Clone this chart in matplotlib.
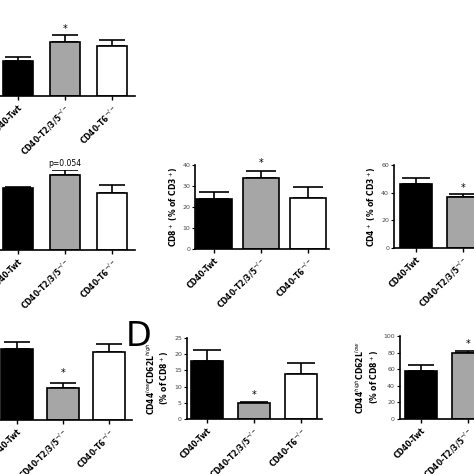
import matplotlib
matplotlib.use("Agg")
import matplotlib.pyplot as plt

groups = ["CD40-Twt", "CD40-T2/3/5$^{-/-}$", "CD40-T6$^{-/-}$"]
colors = ["black", "#a6a6a6", "white"]

# each panel: means, errors, stars
top_left_vals = [44, 67.5, 62.5]
top_left_err = [5, 8.5, 7.5]
mid_left_vals = [77.5, 94, 71]
mid_left_err = [1, 6, 10]
cd8_vals = [24, 34, 24.5]
cd8_err = [3.3, 3, 5]
cd4_vals = [46, 37, 0]
cd4_err = [4.6, 2, 0]
bot_left_vals = [71, 32, 68]
bot_left_err = [7, 5, 8]
naive_vals = [18, 4.8, 14]
naive_err = [3.3, 0.5, 3.2]
eff_vals = [58, 80, 0]
eff_err = [7, 1.5, 0]

W = H = 474
fig = plt.figure(figsize=(4.74, 4.74), dpi=100)


def panel(c0, sp, bottom, ppu, xlim, ylim, vals, errs, width=0.7, ticks=None,
          ylabel=None, n=3, note=None, show_left=True):
    left = c0 + xlim[0] * sp
    wpx = (xlim[1] - xlim[0]) * sp
    hpx = (ylim[1] - ylim[0]) * ppu
    ax = fig.add_axes([left / W, (H - bottom) / H, wpx / W, hpx / H])
    x = list(range(n))
    ax.bar(x, vals[:n], width=width, color=colors[:n], edgecolor="black", linewidth=1.2, zorder=2)
    for i in range(n):
        ax.errorbar(i, vals[i], yerr=[[0], [errs[i]]], color="black", capsize=width * sp * 0.3,
                    lw=1.2, capthick=1.2, zorder=1)
    if note is not None:
        ax.text(1, note[0], note[1], ha="center", va="bottom", fontsize=5.5 if note[1] != "*" else 7)
    ax.set_xlim(*xlim)
    ax.set_ylim(*ylim)
    ax.set_xticks(x)
    ax.set_xticklabels(groups[:n], rotation=45, ha="right", rotation_mode="anchor",
                       fontsize=5.5, fontweight="bold")
    ax.tick_params(axis="x", length=3, width=1, pad=2)
    ax.spines["top"].set_visible(False)
    ax.spines["right"].set_visible(False)
    ax.spines["left"].set_linewidth(1.2)
    ax.spines["bottom"].set_linewidth(1.2)
    if ticks is not None:
        ax.set_yticks(ticks)
        ax.tick_params(axis="y", labelsize=4.5, colors="black", labelcolor="#444444",
                       length=2.5, pad=1)
    else:
        ax.set_yticks([])
    if not show_left:
        ax.spines["left"].set_visible(False)
    if ylabel:
        ax.set_ylabel(ylabel, fontsize=5.5, fontweight="bold", labelpad=2)
    return ax


panel(18, 47, 96, 0.8, (-0.8, 2.5), (0, 100), top_left_vals, top_left_err,
      width=0.65, note=(78, "*"), show_left=False)
panel(18, 47, 250, 0.8, (-0.8, 2.5), (0, 100), mid_left_vals, mid_left_err,
      width=0.65, note=(102, "p=0.054"), show_left=False)
panel(214, 47, 249, 2.1, (-0.4, 2.45), (0, 40), cd8_vals, cd8_err, width=0.78,
      ticks=[0, 10, 20, 30, 40], ylabel="CD8$^+$ (% of CD3$^+$)", note=(38.5, "*"))
panel(416, 47, 248, 83 / 60, (-0.47, 2.45), (0, 60), cd4_vals, cd4_err, width=0.7,
      ticks=[0, 20, 40, 60], ylabel="CD4$^+$ (% of CD3$^+$)", n=2, note=(39.5, "*"))
panel(17, 46, 420, 1.0, (-0.8, 2.5), (0, 100), bot_left_vals, bot_left_err,
      width=0.68, note=(42, "*"), show_left=False)
panel(207, 47, 419, 3.24, (-0.43, 2.45), (0, 25), naive_vals, naive_err, width=0.7,
      ticks=[0, 5, 10, 15, 20, 25],
      ylabel="CD44$^{low}$CD62L$^{high}$\n(% of CD8$^+$)", note=(6, "*"))
panel(421, 47, 419, 0.83, (-0.45, 2.45), (0, 100), eff_vals, eff_err, width=0.68,
      ticks=[0, 20, 40, 60, 80, 100],
      ylabel="CD44$^{high}$CD62L$^{low}$\n(% of CD8$^+$)", n=2, note=(84, "*"))

fig.text(126 / W, 1 - 353 / H, "D", fontsize=24, ha="left", va="bottom")

fig.savefig("out.png", dpi=100)
